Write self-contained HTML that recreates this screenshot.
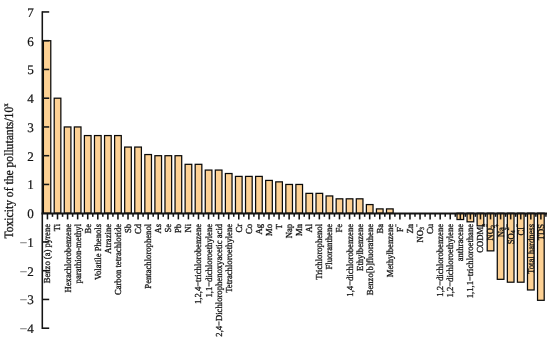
<!DOCTYPE html>
<html><head><meta charset="utf-8"><title>Toxicity of the pollutants</title>
<style>html,body{margin:0;padding:0;background:#fff}body{width:550px;height:341px;overflow:hidden}</style></head>
<body>
<svg width="550" height="341" viewBox="0 0 550 341" style="display:block">
<rect width="550" height="341" fill="#fff"/><g text-rendering="geometricPrecision">
<g fill="#fdd194" stroke="#0a0a0a" stroke-width="1.25">
<rect x="43.40" y="40.70" width="7.38" height="172.50"/>
<rect x="54.20" y="98.20" width="6.65" height="115.00"/>
<rect x="64.27" y="126.95" width="6.65" height="86.25"/>
<rect x="74.33" y="126.95" width="6.65" height="86.25"/>
<rect x="84.41" y="135.57" width="6.65" height="77.62"/>
<rect x="94.48" y="135.57" width="6.65" height="77.62"/>
<rect x="104.55" y="135.57" width="6.65" height="77.62"/>
<rect x="114.62" y="135.57" width="6.65" height="77.62"/>
<rect x="124.68" y="147.07" width="6.65" height="66.12"/>
<rect x="134.75" y="147.07" width="6.65" height="66.12"/>
<rect x="144.83" y="154.55" width="6.65" height="58.65"/>
<rect x="154.90" y="155.70" width="6.65" height="57.50"/>
<rect x="164.97" y="155.70" width="6.65" height="57.50"/>
<rect x="175.04" y="155.70" width="6.65" height="57.50"/>
<rect x="185.11" y="164.32" width="6.65" height="48.88"/>
<rect x="195.18" y="164.32" width="6.65" height="48.88"/>
<rect x="205.25" y="170.07" width="6.65" height="43.12"/>
<rect x="215.31" y="170.07" width="6.65" height="43.12"/>
<rect x="225.38" y="173.52" width="6.65" height="39.68"/>
<rect x="235.46" y="176.40" width="6.65" height="36.80"/>
<rect x="245.53" y="176.40" width="6.65" height="36.80"/>
<rect x="255.60" y="176.40" width="6.65" height="36.80"/>
<rect x="265.67" y="180.42" width="6.65" height="32.78"/>
<rect x="275.74" y="181.86" width="6.65" height="31.34"/>
<rect x="285.81" y="184.45" width="6.65" height="28.75"/>
<rect x="295.88" y="184.45" width="6.65" height="28.75"/>
<rect x="305.94" y="193.36" width="6.65" height="19.84"/>
<rect x="316.01" y="193.36" width="6.65" height="19.84"/>
<rect x="326.09" y="195.95" width="6.65" height="17.25"/>
<rect x="336.16" y="198.82" width="6.65" height="14.38"/>
<rect x="346.23" y="198.82" width="6.65" height="14.38"/>
<rect x="356.30" y="198.82" width="6.65" height="14.38"/>
<rect x="366.37" y="204.57" width="6.65" height="8.62"/>
<rect x="376.44" y="208.89" width="6.65" height="4.31"/>
<rect x="386.50" y="208.89" width="6.65" height="4.31"/>
<rect x="457.00" y="213.20" width="6.65" height="6.32"/>
<rect x="467.06" y="213.20" width="6.65" height="8.62"/>
<rect x="477.13" y="213.20" width="6.65" height="12.65"/>
<rect x="487.21" y="213.20" width="6.65" height="37.66"/>
<rect x="497.28" y="213.20" width="6.65" height="66.12"/>
<rect x="507.35" y="213.20" width="6.65" height="69.00"/>
<rect x="517.41" y="213.20" width="6.65" height="69.00"/>
<rect x="527.49" y="213.20" width="6.65" height="76.76"/>
<rect x="537.55" y="213.20" width="6.65" height="87.11"/>
</g>
<g stroke="#141414" stroke-width="1.55" fill="none" stroke-linecap="butt">
<path d="M42.30 11.25 V328.90"/>
<path d="M41.50 213.50 H547.00" stroke-width="2"/>
</g>
<g stroke="#141414" stroke-width="1.55" fill="none">
<path d="M42.30 328.20 H49.20"/>
<path d="M42.30 299.45 H49.20"/>
<path d="M42.30 270.70 H49.20"/>
<path d="M42.30 241.95 H49.20"/>
<path d="M42.30 184.45 H49.20"/>
<path d="M42.30 155.70 H49.20"/>
<path d="M42.30 126.95 H49.20"/>
<path d="M42.30 98.20 H49.20"/>
<path d="M42.30 69.45 H49.20"/>
<path d="M42.30 40.70 H49.20"/>
<path d="M42.30 11.95 H49.20"/>
<path d="M47.45 213.20 V219.40"/>
<path d="M52.48 213.20 V216.80"/>
<path d="M57.52 213.20 V219.40"/>
<path d="M62.56 213.20 V216.80"/>
<path d="M67.59 213.20 V219.40"/>
<path d="M72.62 213.20 V216.80"/>
<path d="M77.66 213.20 V219.40"/>
<path d="M82.69 213.20 V216.80"/>
<path d="M87.73 213.20 V219.40"/>
<path d="M92.77 213.20 V216.80"/>
<path d="M97.80 213.20 V219.40"/>
<path d="M102.84 213.20 V216.80"/>
<path d="M107.87 213.20 V219.40"/>
<path d="M112.91 213.20 V216.80"/>
<path d="M117.94 213.20 V219.40"/>
<path d="M122.98 213.20 V216.80"/>
<path d="M128.01 213.20 V219.40"/>
<path d="M133.04 213.20 V216.80"/>
<path d="M138.08 213.20 V219.40"/>
<path d="M143.11 213.20 V216.80"/>
<path d="M148.15 213.20 V219.40"/>
<path d="M153.19 213.20 V216.80"/>
<path d="M158.22 213.20 V219.40"/>
<path d="M163.26 213.20 V216.80"/>
<path d="M168.29 213.20 V219.40"/>
<path d="M173.33 213.20 V216.80"/>
<path d="M178.36 213.20 V219.40"/>
<path d="M183.40 213.20 V216.80"/>
<path d="M188.43 213.20 V219.40"/>
<path d="M193.47 213.20 V216.80"/>
<path d="M198.50 213.20 V219.40"/>
<path d="M203.53 213.20 V216.80"/>
<path d="M208.57 213.20 V219.40"/>
<path d="M213.60 213.20 V216.80"/>
<path d="M218.64 213.20 V219.40"/>
<path d="M223.67 213.20 V216.80"/>
<path d="M228.71 213.20 V219.40"/>
<path d="M233.74 213.20 V216.80"/>
<path d="M238.78 213.20 V219.40"/>
<path d="M243.82 213.20 V216.80"/>
<path d="M248.85 213.20 V219.40"/>
<path d="M253.89 213.20 V216.80"/>
<path d="M258.92 213.20 V219.40"/>
<path d="M263.96 213.20 V216.80"/>
<path d="M268.99 213.20 V219.40"/>
<path d="M274.03 213.20 V216.80"/>
<path d="M279.06 213.20 V219.40"/>
<path d="M284.10 213.20 V216.80"/>
<path d="M289.13 213.20 V219.40"/>
<path d="M294.17 213.20 V216.80"/>
<path d="M299.20 213.20 V219.40"/>
<path d="M304.24 213.20 V216.80"/>
<path d="M309.27 213.20 V219.40"/>
<path d="M314.31 213.20 V216.80"/>
<path d="M319.34 213.20 V219.40"/>
<path d="M324.38 213.20 V216.80"/>
<path d="M329.41 213.20 V219.40"/>
<path d="M334.45 213.20 V216.80"/>
<path d="M339.48 213.20 V219.40"/>
<path d="M344.52 213.20 V216.80"/>
<path d="M349.55 213.20 V219.40"/>
<path d="M354.59 213.20 V216.80"/>
<path d="M359.62 213.20 V219.40"/>
<path d="M364.66 213.20 V216.80"/>
<path d="M369.69 213.20 V219.40"/>
<path d="M374.73 213.20 V216.80"/>
<path d="M379.76 213.20 V219.40"/>
<path d="M384.80 213.20 V216.80"/>
<path d="M389.83 213.20 V219.40"/>
<path d="M394.87 213.20 V216.80"/>
<path d="M399.90 213.20 V219.40"/>
<path d="M404.94 213.20 V216.80"/>
<path d="M409.97 213.20 V219.40"/>
<path d="M415.00 213.20 V216.80"/>
<path d="M420.04 213.20 V219.40"/>
<path d="M425.08 213.20 V216.80"/>
<path d="M430.11 213.20 V219.40"/>
<path d="M435.15 213.20 V216.80"/>
<path d="M440.18 213.20 V219.40"/>
<path d="M445.22 213.20 V216.80"/>
<path d="M450.25 213.20 V219.40"/>
<path d="M455.29 213.20 V216.80"/>
<path d="M460.32 213.20 V219.40"/>
<path d="M465.36 213.20 V216.80"/>
<path d="M470.39 213.20 V219.40"/>
<path d="M475.43 213.20 V216.80"/>
<path d="M480.46 213.20 V219.40"/>
<path d="M485.50 213.20 V216.80"/>
<path d="M490.53 213.20 V219.40"/>
<path d="M495.57 213.20 V216.80"/>
<path d="M500.60 213.20 V219.40"/>
<path d="M505.64 213.20 V216.80"/>
<path d="M510.67 213.20 V219.40"/>
<path d="M515.71 213.20 V216.80"/>
<path d="M520.74 213.20 V219.40"/>
<path d="M525.77 213.20 V216.80"/>
<path d="M530.81 213.20 V219.40"/>
<path d="M535.85 213.20 V216.80"/>
<path d="M540.88 213.20 V219.40"/>
<path d="M545.91 213.20 V216.80"/>
</g>
<g font-family="'Liberation Serif', serif" font-size="13.1" fill="#141414" stroke="#141414" stroke-width="0.2" text-anchor="end">
<text transform="translate(33.8 333.20)"><tspan fill="#8c8c8c" stroke="#8c8c8c" stroke-width="0.35">−</tspan>4</text>
<text transform="translate(33.8 304.45)"><tspan fill="#8c8c8c" stroke="#8c8c8c" stroke-width="0.35">−</tspan>3</text>
<text transform="translate(33.8 275.70)"><tspan fill="#8c8c8c" stroke="#8c8c8c" stroke-width="0.35">−</tspan>2</text>
<text transform="translate(33.8 246.95)"><tspan fill="#8c8c8c" stroke="#8c8c8c" stroke-width="0.35">−</tspan>1</text>
<text transform="translate(33.8 218.20)">0</text>
<text transform="translate(33.8 189.45)">1</text>
<text transform="translate(33.8 160.70)">2</text>
<text transform="translate(33.8 131.95)">3</text>
<text transform="translate(33.8 103.20)">4</text>
<text transform="translate(33.8 74.45)">5</text>
<text transform="translate(33.8 45.70)">6</text>
<text transform="translate(33.8 16.95)">7</text>
</g>
<text transform="translate(12.9 238.6) rotate(-90) scale(0.908 1)" font-family="'Liberation Serif', serif" font-size="12.8" fill="#141414" stroke="#141414" stroke-width="0.3">Toxicity of the pollutants/10<tspan dy="-5.3" font-size="7.4">x</tspan></text>
<g font-family="'Liberation Serif', serif" font-size="9.2" fill="#141414" stroke="#141414" stroke-width="0.3" text-anchor="end">
<text transform="translate(50.40 223.9) rotate(-90) scale(0.94 1)">Benzo (a) pyrene</text>
<text transform="translate(60.47 223.9) rotate(-90) scale(0.94 1)">Ti</text>
<text transform="translate(70.54 223.9) rotate(-90) scale(0.94 1)">Hexachlorobenzene</text>
<text transform="translate(80.61 223.9) rotate(-90) scale(0.94 1)">parathion-methyl</text>
<text transform="translate(90.68 223.9) rotate(-90) scale(0.94 1)">Be</text>
<text transform="translate(100.75 223.9) rotate(-90) scale(0.94 1)">Volatile Phenols</text>
<text transform="translate(110.82 223.9) rotate(-90) scale(0.94 1)">Atrazine</text>
<text transform="translate(120.89 223.9) rotate(-90) scale(0.94 1)">Carbon tetrachloride</text>
<text transform="translate(130.96 223.9) rotate(-90) scale(0.94 1)">Sb</text>
<text transform="translate(141.03 223.9) rotate(-90) scale(0.94 1)">Cd</text>
<text transform="translate(151.10 223.9) rotate(-90) scale(0.94 1)">Pentachlorophenol</text>
<text transform="translate(161.17 223.9) rotate(-90) scale(0.94 1)">As</text>
<text transform="translate(171.24 223.9) rotate(-90) scale(0.94 1)">Se</text>
<text transform="translate(181.31 223.9) rotate(-90) scale(0.94 1)">Pb</text>
<text transform="translate(191.38 223.9) rotate(-90) scale(0.94 1)">Ni</text>
<text transform="translate(201.45 223.9) rotate(-90) scale(0.94 1)">1,2,4−trichlorobenzene</text>
<text transform="translate(211.52 223.9) rotate(-90) scale(0.94 1)">1,1−dichloroethylene</text>
<text transform="translate(221.59 223.9) rotate(-90) scale(0.94 1)">2,4−Dichlorophenoxyacetic acid</text>
<text transform="translate(231.66 223.9) rotate(-90) scale(0.94 1)">Tetrachloroethylene</text>
<text transform="translate(241.73 223.9) rotate(-90) scale(0.94 1)">Cr</text>
<text transform="translate(251.80 223.9) rotate(-90) scale(0.94 1)">Co</text>
<text transform="translate(261.87 223.9) rotate(-90) scale(0.94 1)">Ag</text>
<text transform="translate(271.94 223.9) rotate(-90) scale(0.94 1)">Mo</text>
<text transform="translate(282.01 223.9) rotate(-90) scale(0.94 1)">T</text>
<text transform="translate(292.08 223.9) rotate(-90) scale(0.94 1)">Nap</text>
<text transform="translate(302.15 223.9) rotate(-90) scale(0.94 1)">Mn</text>
<text transform="translate(312.22 223.9) rotate(-90) scale(0.94 1)">Al</text>
<text transform="translate(322.29 223.9) rotate(-90) scale(0.94 1)">Trichlorophenol</text>
<text transform="translate(332.36 223.9) rotate(-90) scale(0.94 1)">Fluoranthene</text>
<text transform="translate(342.43 223.9) rotate(-90) scale(0.94 1)">Fe</text>
<text transform="translate(352.50 223.9) rotate(-90) scale(0.94 1)">1,4−dichlorobenzene</text>
<text transform="translate(362.57 223.9) rotate(-90) scale(0.94 1)">Ethylbenzene</text>
<text transform="translate(372.64 223.9) rotate(-90) scale(0.94 1)">Benzo[b]fluorathene</text>
<text transform="translate(382.71 223.9) rotate(-90) scale(0.94 1)">Ba</text>
<text transform="translate(392.78 223.9) rotate(-90) scale(0.94 1)">Methylbenzene</text>
<text transform="translate(402.85 223.9) rotate(-90) scale(0.94 1)">F<tspan dy="-4.4" font-size="6.3">−</tspan></text>
<text transform="translate(412.92 223.9) rotate(-90) scale(0.94 1)">Zn</text>
<text transform="translate(422.99 223.9) rotate(-90) scale(0.94 1)">NO<tspan dy="1.5" font-size="6.3">3</tspan><tspan dy="-5.9" dx="-0.3" font-size="6.3">−</tspan></text>
<text transform="translate(433.06 223.9) rotate(-90) scale(0.94 1)">Cu</text>
<text transform="translate(443.13 223.9) rotate(-90) scale(0.94 1)">1,2−dichlorobenzene</text>
<text transform="translate(453.20 223.9) rotate(-90) scale(0.94 1)">1,2−dichloroethylene</text>
<text transform="translate(463.27 223.9) rotate(-90) scale(0.94 1)">anthracene</text>
<text transform="translate(473.34 223.9) rotate(-90) scale(0.94 1)">1,1,1−trichloroethane</text>
<text transform="translate(483.41 223.9) rotate(-90) scale(0.94 1)">CODM<tspan dy="1.5" font-size="6.3">n</tspan></text>
<text transform="translate(493.48 223.9) rotate(-90) scale(0.94 1)">NO<tspan dy="1.5" font-size="6.3">2</tspan><tspan dy="-5.9" dx="-2.3" font-size="6.3">−</tspan></text>
<text transform="translate(503.55 223.9) rotate(-90) scale(0.94 1)">Na<tspan dy="-4.4" font-size="6.3">+</tspan></text>
<text transform="translate(513.62 223.9) rotate(-90) scale(0.94 1)">SO<tspan dy="1.5" font-size="6.3">4</tspan><tspan dy="-5.9" font-size="6.3">2−</tspan></text>
<text transform="translate(523.69 223.9) rotate(-90) scale(0.94 1)">Cl<tspan dy="-4.4" font-size="6.3">−</tspan></text>
<text transform="translate(533.76 223.9) rotate(-90) scale(0.94 1)">Total hardness</text>
<text transform="translate(543.83 223.9) rotate(-90) scale(0.94 1)">TDS</text>
</g>
</g></svg>
</body></html>
